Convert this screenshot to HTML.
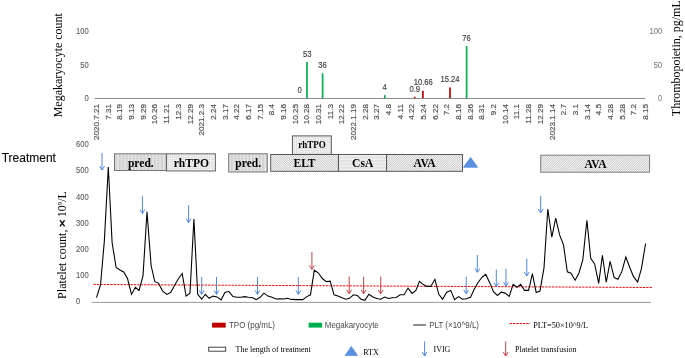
<!DOCTYPE html>
<html lang="en"><head><meta charset="utf-8"><title>Treatment course chart</title>
<style>
html,body{margin:0;padding:0;background:#fff;}
svg{display:block;}
.s{font-family:"Liberation Sans", Arial, sans-serif;}
.t{font-family:"Liberation Serif", "Times New Roman", serif;}
.ax{font-size:9.1px;fill:#5c5c5c;stroke:#5c5c5c;stroke-width:0.1px;}
.axr{font-size:9.1px;fill:#858585;stroke:#858585;stroke-width:0.15px;}
.dl{font-size:9.1px;fill:#3a3a3a;stroke:#3a3a3a;stroke-width:0.15px;}
.bx{font-size:12.1px;font-weight:bold;fill:#000;}
.dt{font-size:8.1px;fill:#505050;stroke:#505050;stroke-width:0.18px;}
.lg{font-size:9.1px;fill:#4a4a4a;}
.lt{font-size:9px;fill:#000;}
</style></head><body>
<svg width="685" height="358" viewBox="0 0 685 358">
<defs>
<pattern id="pv" width="3.5" height="4" patternUnits="userSpaceOnUse"><rect width="3.5" height="4" fill="#e4e4e4"/><rect width="1.6" height="4" fill="#cfcfcf"/></pattern>
<pattern id="pg" width="1.85" height="1.85" patternUnits="userSpaceOnUse"><rect width="1.85" height="1.85" fill="#fefefe"/><path d="M0 0.5H1.85M0.5 0V1.85" stroke="#cccccc" stroke-width="0.45"/></pattern>
<pattern id="ph" width="4" height="3.4" patternUnits="userSpaceOnUse" y="0.3"><rect width="4" height="3.4" fill="#efefef"/><rect width="4" height="1.7" fill="#e1e1e1"/></pattern>
<pattern id="pd1" width="1.62" height="1.62" patternUnits="userSpaceOnUse" patternTransform="rotate(45)"><rect width="1.62" height="1.62" fill="#fcfcfc"/><rect width="1.62" height="0.62" fill="#b4b4b4"/></pattern>
<pattern id="pd2" width="1.62" height="1.62" patternUnits="userSpaceOnUse" patternTransform="rotate(-45)"><rect width="1.62" height="1.62" fill="#fcfcfc"/><rect width="1.62" height="0.62" fill="#b4b4b4"/></pattern>
</defs>
<rect width="685" height="358" fill="#fff"/>
<g class="s">
<text class="ax" transform="translate(88.70,33.86) scale(0.840,1)" text-anchor="end">100</text>
<text class="ax" transform="translate(88.70,67.66) scale(0.840,1)" text-anchor="end">50</text>
<text class="ax" transform="translate(88.70,101.46) scale(0.840,1)" text-anchor="end">0</text>
<text class="axr" transform="translate(662.20,34.16) scale(0.840,1)" text-anchor="end">100</text>
<text class="axr" transform="translate(662.20,67.86) scale(0.840,1)" text-anchor="end">50</text>
<text class="axr" transform="translate(662.20,101.46) scale(0.840,1)" text-anchor="end">0</text>
<line x1="94.6" y1="98.5" x2="645.2" y2="98.5" stroke="#7f7f7f" stroke-width="0.9"/>
<text class="dt" text-anchor="end" transform="translate(99.10,104.0) rotate(-90)">2020.7.21</text>
<text class="dt" text-anchor="end" transform="translate(110.78,104.0) rotate(-90)">7.31</text>
<text class="dt" text-anchor="end" transform="translate(122.45,104.0) rotate(-90)">8.19</text>
<text class="dt" text-anchor="end" transform="translate(134.13,104.0) rotate(-90)">9.13</text>
<text class="dt" text-anchor="end" transform="translate(145.81,104.0) rotate(-90)">9.29</text>
<text class="dt" text-anchor="end" transform="translate(157.49,104.0) rotate(-90)">10.26</text>
<text class="dt" text-anchor="end" transform="translate(169.16,104.0) rotate(-90)">11.21</text>
<text class="dt" text-anchor="end" transform="translate(180.84,104.0) rotate(-90)">12.3</text>
<text class="dt" text-anchor="end" transform="translate(192.52,104.0) rotate(-90)">12.29</text>
<text class="dt" text-anchor="end" transform="translate(204.19,104.0) rotate(-90)">2021.2.3</text>
<text class="dt" text-anchor="end" transform="translate(215.87,104.0) rotate(-90)">2.24</text>
<text class="dt" text-anchor="end" transform="translate(227.55,104.0) rotate(-90)">3.17</text>
<text class="dt" text-anchor="end" transform="translate(239.22,104.0) rotate(-90)">4.22</text>
<text class="dt" text-anchor="end" transform="translate(250.90,104.0) rotate(-90)">6.17</text>
<text class="dt" text-anchor="end" transform="translate(262.58,104.0) rotate(-90)">7.15</text>
<text class="dt" text-anchor="end" transform="translate(274.25,104.0) rotate(-90)">8.4</text>
<text class="dt" text-anchor="end" transform="translate(285.93,104.0) rotate(-90)">9.16</text>
<text class="dt" text-anchor="end" transform="translate(297.61,104.0) rotate(-90)">10.25</text>
<text class="dt" text-anchor="end" transform="translate(309.29,104.0) rotate(-90)">10.28</text>
<text class="dt" text-anchor="end" transform="translate(320.96,104.0) rotate(-90)">10.31</text>
<text class="dt" text-anchor="end" transform="translate(332.64,104.0) rotate(-90)">11.3</text>
<text class="dt" text-anchor="end" transform="translate(344.32,104.0) rotate(-90)">12.22</text>
<text class="dt" text-anchor="end" transform="translate(355.99,104.0) rotate(-90)">2022.1.19</text>
<text class="dt" text-anchor="end" transform="translate(367.67,104.0) rotate(-90)">2.28</text>
<text class="dt" text-anchor="end" transform="translate(379.35,104.0) rotate(-90)">3.27</text>
<text class="dt" text-anchor="end" transform="translate(391.03,104.0) rotate(-90)">4.8</text>
<text class="dt" text-anchor="end" transform="translate(402.70,104.0) rotate(-90)">4.11</text>
<text class="dt" text-anchor="end" transform="translate(414.38,104.0) rotate(-90)">4.22</text>
<text class="dt" text-anchor="end" transform="translate(426.06,104.0) rotate(-90)">5.24</text>
<text class="dt" text-anchor="end" transform="translate(437.73,104.0) rotate(-90)">6.22</text>
<text class="dt" text-anchor="end" transform="translate(449.41,104.0) rotate(-90)">7.2</text>
<text class="dt" text-anchor="end" transform="translate(461.09,104.0) rotate(-90)">8.16</text>
<text class="dt" text-anchor="end" transform="translate(472.76,104.0) rotate(-90)">8.26</text>
<text class="dt" text-anchor="end" transform="translate(484.44,104.0) rotate(-90)">8.31</text>
<text class="dt" text-anchor="end" transform="translate(496.12,104.0) rotate(-90)">9.2</text>
<text class="dt" text-anchor="end" transform="translate(507.80,104.0) rotate(-90)">10.14</text>
<text class="dt" text-anchor="end" transform="translate(519.47,104.0) rotate(-90)">11.1</text>
<text class="dt" text-anchor="end" transform="translate(531.15,104.0) rotate(-90)">11.28</text>
<text class="dt" text-anchor="end" transform="translate(542.83,104.0) rotate(-90)">12.29</text>
<text class="dt" text-anchor="end" transform="translate(554.50,104.0) rotate(-90)">2023.1.14</text>
<text class="dt" text-anchor="end" transform="translate(566.18,104.0) rotate(-90)">2.7</text>
<text class="dt" text-anchor="end" transform="translate(577.86,104.0) rotate(-90)">3.1</text>
<text class="dt" text-anchor="end" transform="translate(589.53,104.0) rotate(-90)">3.14</text>
<text class="dt" text-anchor="end" transform="translate(601.21,104.0) rotate(-90)">4.5</text>
<text class="dt" text-anchor="end" transform="translate(612.89,104.0) rotate(-90)">4.28</text>
<text class="dt" text-anchor="end" transform="translate(624.56,104.0) rotate(-90)">5.28</text>
<text class="dt" text-anchor="end" transform="translate(636.24,104.0) rotate(-90)">7.2</text>
<text class="dt" text-anchor="end" transform="translate(647.92,104.0) rotate(-90)">8.15</text>
<rect x="306.15" y="62.0" width="1.7" height="36.1" fill="#00b050"/>
<rect x="321.75" y="73.3" width="1.7" height="24.8" fill="#00b050"/>
<rect x="383.95" y="95.1" width="1.7" height="3.0" fill="#00b050"/>
<rect x="413.85" y="96.8" width="1.7" height="1.3" fill="#c00000"/>
<rect x="422.05" y="90.8" width="1.7" height="7.3" fill="#c00000"/>
<rect x="449.15" y="87.4" width="1.7" height="10.7" fill="#c00000"/>
<rect x="465.75" y="46.1" width="1.7" height="52.0" fill="#00b050"/>
<text class="dl" transform="translate(307.20,57.06) scale(0.840,1)" text-anchor="middle">53</text>
<text class="dl" transform="translate(322.60,68.06) scale(0.840,1)" text-anchor="middle">36</text>
<text class="dl" transform="translate(299.50,92.96) scale(0.840,1)" text-anchor="middle">0</text>
<text class="dl" transform="translate(384.70,89.86) scale(0.840,1)" text-anchor="middle">4</text>
<text class="dl" transform="translate(414.70,91.66) scale(0.840,1)" text-anchor="middle">0.9</text>
<text class="dl" transform="translate(423.30,84.96) scale(0.840,1)" text-anchor="middle">10.66</text>
<text class="dl" transform="translate(450.00,82.36) scale(0.840,1)" text-anchor="middle">15.24</text>
<text class="dl" transform="translate(466.60,40.86) scale(0.840,1)" text-anchor="middle">76</text>
</g>
<text class="t" font-size="12" fill="#000" text-anchor="middle" transform="translate(61.8,65.2) rotate(-90)">Megakaryocyte count</text>
<text class="t" font-size="12" fill="#000" text-anchor="middle" transform="translate(680.4,58.2) rotate(-90)">Thrombopoietin, pg/mL</text>
<text class="t" font-size="12.15" fill="#000" text-anchor="start" transform="translate(65.6,299.0) rotate(-90)">Platelet count,</text>
<text class="s" font-size="11.5" stroke="#000" stroke-width="0.35" fill="#000" text-anchor="middle" transform="translate(66.0,223.2) rotate(-90) scale(1.25,1)">×</text>
<text class="t" font-size="12" fill="#000" text-anchor="end" transform="translate(65.6,191.2) rotate(-90)">10<tspan font-size="6.8" dy="-3.6">9</tspan><tspan dy="3.6">/L</tspan></text>
<text class="s" font-size="12" fill="#0a0a0a" stroke="#0a0a0a" stroke-width="0.12" x="1.7" y="162.2">Treatment</text>
<g class="s">
<text class="ax" transform="translate(76.00,147.26) scale(0.840,1)" text-anchor="start">600</text>
<text class="ax" transform="translate(76.00,173.46) scale(0.840,1)" text-anchor="start">500</text>
<text class="ax" transform="translate(76.00,199.66) scale(0.840,1)" text-anchor="start">400</text>
<text class="ax" transform="translate(76.00,225.86) scale(0.840,1)" text-anchor="start">300</text>
<text class="ax" transform="translate(76.00,252.06) scale(0.840,1)" text-anchor="start">200</text>
<text class="ax" transform="translate(76.00,278.26) scale(0.840,1)" text-anchor="start">100</text>
<text class="ax" transform="translate(76.00,304.46) scale(0.840,1)" text-anchor="start">0</text>
</g>
<line x1="91.6" y1="302.4" x2="651" y2="302.4" stroke="#8c8c8c" stroke-width="0.9"/>
<rect x="114.5" y="153.8" width="51.9" height="16.7" fill="url(#pv)" stroke="#707070" stroke-width="0.95"/>
<rect x="166.6" y="153.8" width="48.8" height="17.2" fill="url(#pg)" stroke="#606060" stroke-width="0.95"/>
<rect x="228.7" y="153.8" width="38.6" height="18.2" fill="url(#pv)" stroke="#707070" stroke-width="0.95"/>
<rect x="292.4" y="135.9" width="38.9" height="18.5" fill="url(#pg)" stroke="#505050" stroke-width="0.95"/>
<rect x="270.7" y="154.5" width="67.7" height="16.8" fill="url(#pd1)" stroke="#505050" stroke-width="0.95"/>
<rect x="338.5" y="154.5" width="48.0" height="16.8" fill="url(#ph)" stroke="#505050" stroke-width="0.95"/>
<rect x="386.6" y="154.5" width="75.9" height="16.8" fill="url(#pd2)" stroke="#505050" stroke-width="0.95"/>
<rect x="540.7" y="155.2" width="108.9" height="17.0" fill="url(#pd2)" stroke="#777" stroke-width="0.95"/>
<text class="t bx" transform="translate(140.8,166.7) scale(0.955,1)" text-anchor="middle">pred.</text>
<text class="t bx" transform="translate(191.4,166.7) scale(0.955,1)" text-anchor="middle">rhTPO</text>
<text class="t bx" transform="translate(248.2,167.0) scale(0.955,1)" text-anchor="middle">pred.</text>
<text class="t bx" transform="translate(312.0,148.0) scale(0.955,1)" text-anchor="middle" style="font-size:9.45px">rhTPO</text>
<text class="t bx" transform="translate(304.5,167.0) scale(0.955,1)" text-anchor="middle">ELT</text>
<text class="t bx" transform="translate(362.7,167.0) scale(0.955,1)" text-anchor="middle">CsA</text>
<text class="t bx" transform="translate(424.6,167.0) scale(0.955,1)" text-anchor="middle">AVA</text>
<text class="t bx" transform="translate(595.5,167.8) scale(0.955,1)" text-anchor="middle">AVA</text>
<path d="M463.5 167.3L477.7 167.3L470.6 157.5Z" fill="#5b8fe2" stroke="#3d78d8" stroke-width="0.6" stroke-linejoin="miter"/>
<line x1="93.5" y1="284.5" x2="652" y2="287.5" stroke="#ff0000" stroke-width="1" stroke-dasharray="2.3 1.07"/>
<polyline fill="none" stroke="#000" stroke-width="1.08" stroke-linejoin="miter" points="96.5,297.6 100.5,285.0 104.3,241.6 108.3,167.0 112.1,242.5 116.1,267.5 119.9,270.0 123.7,272.0 127.5,278.5 131.5,294.4 135.4,287.3 139.0,290.5 143.0,276.0 147.0,211.7 151.1,265.5 154.8,281.7 158.4,283.1 162.5,290.8 166.8,294.4 170.6,292.6 174.5,285.5 178.4,278.7 182.2,273.5 186.1,296.1 190.0,293.1 193.9,219.0 197.7,294.3 201.7,299.2 205.3,294.3 209.2,298.3 213.0,296.1 217.0,296.9 221.1,299.9 224.9,292.5 228.8,291.3 232.9,296.6 237.0,297.3 241.0,297.3 244.6,296.6 248.4,297.3 252.2,297.5 256.1,299.6 260.1,297.3 264.0,293.1 268.0,296.1 271.9,297.3 276.0,299.0 279.9,298.7 283.6,299.0 287.4,298.3 291.3,299.4 295.3,299.6 299.0,299.6 302.8,299.6 306.8,296.6 310.5,294.8 314.3,270.2 318.2,272.8 322.4,278.5 326.4,281.6 330.2,281.1 334.0,294.8 337.9,296.1 342.0,297.8 345.8,299.2 349.5,298.3 353.4,294.8 357.3,295.4 361.0,299.2 364.9,300.3 368.9,294.3 373.0,296.9 376.8,298.5 380.7,299.2 384.6,297.1 388.6,298.5 392.5,297.8 396.2,297.5 400.1,294.8 404.1,294.8 408.0,288.1 412.0,293.4 415.9,290.4 419.4,281.4 423.3,284.6 427.0,286.4 430.8,286.4 434.9,279.3 438.8,294.3 442.6,299.2 446.7,292.2 450.7,290.4 454.6,299.6 458.5,296.6 462.5,299.2 466.4,298.7 470.5,297.3 474.3,289.0 478.4,282.0 482.3,277.0 485.8,274.4 489.8,282.9 493.5,291.7 497.4,295.5 501.3,292.2 505.1,293.1 509.2,296.4 513.1,284.3 517.1,287.3 520.6,284.3 524.5,290.4 528.6,290.4 532.4,273.7 536.2,292.5 540.0,291.1 544.0,267.9 547.8,209.0 551.8,237.2 555.7,218.2 559.6,234.9 563.5,244.8 567.3,271.8 571.0,273.2 575.1,280.2 578.9,273.2 582.8,260.0 586.9,220.3 590.7,258.2 594.6,264.0 598.7,283.4 602.4,255.2 606.2,282.3 610.1,261.4 614.2,277.6 618.0,279.3 621.9,271.4 625.8,257.0 629.6,267.0 633.5,276.7 637.6,282.0 641.4,268.8 645.6,243.5"/>
<path d="M102.0 153.1V170.0M99.5 166.1L102.0 170.0L104.5 166.1" fill="none" stroke="#3b7be4" stroke-width="0.90"/>
<path d="M142.4 196.2V213.5M140.0 209.6L142.4 213.5L144.8 209.6" fill="none" stroke="#3b7be4" stroke-width="0.90"/>
<path d="M188.6 205.1V222.6M186.2 218.7L188.6 222.6L191.0 218.7" fill="none" stroke="#3b7be4" stroke-width="0.90"/>
<path d="M201.7 277.0V294.3M199.2 290.4L201.7 294.3L204.1 290.4" fill="none" stroke="#3b7be4" stroke-width="0.90"/>
<path d="M216.5 277.0V294.3M214.1 290.4L216.5 294.3L218.9 290.4" fill="none" stroke="#3b7be4" stroke-width="0.90"/>
<path d="M257.5 277.0V294.3M255.1 290.4L257.5 294.3L259.9 290.4" fill="none" stroke="#3b7be4" stroke-width="0.90"/>
<path d="M298.3 277.0V294.3M295.9 290.4L298.3 294.3L300.8 290.4" fill="none" stroke="#3b7be4" stroke-width="0.90"/>
<path d="M466.2 276.7V293.8M463.8 289.9L466.2 293.8L468.6 289.9" fill="none" stroke="#3b7be4" stroke-width="0.90"/>
<path d="M477.3 255.0V272.3M474.9 268.4L477.3 272.3L479.8 268.4" fill="none" stroke="#3b7be4" stroke-width="0.90"/>
<path d="M496.3 269.6V286.7M493.9 282.8L496.3 286.7L498.8 282.8" fill="none" stroke="#3b7be4" stroke-width="0.90"/>
<path d="M506.0 268.8V286.0M503.6 282.1L506.0 286.0L508.4 282.1" fill="none" stroke="#3b7be4" stroke-width="0.90"/>
<path d="M526.8 258.7V276.0M524.3 272.1L526.8 276.0L529.2 272.1" fill="none" stroke="#3b7be4" stroke-width="0.90"/>
<path d="M540.7 195.8V212.9M538.2 209.0L540.7 212.9L543.2 209.0" fill="none" stroke="#3b7be4" stroke-width="0.90"/>
<path d="M311.9 252.0V269.3M309.4 265.4L311.9 269.3L314.3 265.4" fill="none" stroke="#c92c2c" stroke-width="0.90"/>
<path d="M349.2 276.7V293.8M346.8 289.9L349.2 293.8L351.6 289.9" fill="none" stroke="#c92c2c" stroke-width="0.90"/>
<path d="M363.6 276.7V293.8M361.2 289.9L363.6 293.8L366.1 289.9" fill="none" stroke="#c92c2c" stroke-width="0.90"/>
<path d="M380.7 276.7V293.8M378.2 289.9L380.7 293.8L383.1 289.9" fill="none" stroke="#c92c2c" stroke-width="0.90"/>
<rect x="212.1" y="322.7" width="13.6" height="4.9" fill="#c00000"/>
<text class="s lg" transform="translate(229.0,327.9) scale(0.875,1)">TPO (pg/mL)</text>
<rect x="308.6" y="322.7" width="13.6" height="4.9" fill="#00b050"/>
<text class="s lg" transform="translate(324.8,327.9) scale(0.875,1)">Megakaryocyte</text>
<line x1="413.1" y1="325" x2="426" y2="325" stroke="#404040" stroke-width="1.2"/>
<text class="s lg" transform="translate(429.3,327.9) scale(0.875,1)">PLT (×10^9/L)</text>
<line x1="509.6" y1="323.5" x2="530.3" y2="323.5" stroke="#ff0000" stroke-width="1" stroke-dasharray="2.3 1.07"/>
<text class="t lt" transform="translate(533.2,327.9) scale(0.915,1)">PLT=50×10^9/L</text>
<rect x="208.7" y="347.2" width="17" height="4" fill="#fff" stroke="#333" stroke-width="0.9"/>
<text class="t lt" transform="translate(235.5,351.8) scale(0.89,1)">The length of treatment</text>
<path d="M345.2 355.4L357.5 355.4L351.3 346.4Z" fill="#5b8fe2" stroke="#3d78d8" stroke-width="0.6"/>
<text class="t lt" transform="translate(363.2,354.6) scale(0.89,1)">RTX</text>
<path d="M424.6 341.5V356.0M422.2 352.0L424.6 356.0L427.0 352.0" fill="none" stroke="#3b7be4" stroke-width="0.90"/>
<text class="t lt" transform="translate(433.5,351.8) scale(0.89,1)">IVIG</text>
<path d="M505.7 341.5V356.0M503.3 352.0L505.7 356.0L508.1 352.0" fill="none" stroke="#c92c2c" stroke-width="0.90"/>
<text class="t lt" transform="translate(515.0,351.8) scale(0.89,1)">Platelet transfusion</text>
</svg></body></html>
